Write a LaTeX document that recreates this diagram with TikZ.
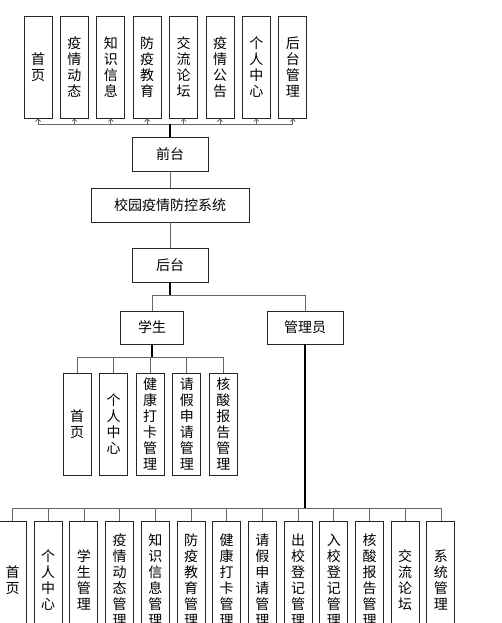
\documentclass[tikz,border=0pt]{standalone}
\usepackage{fontspec}
\setmainfont{Noto Sans CJK SC}
\usetikzlibrary{arrows.meta}

\begin{document}
\begin{tikzpicture}[>={Straight Barb[length=2.5pt,width=5pt]}, x=1pt, y=-1pt, font=\fontsize{14}{16}\selectfont]
\tikzset{
  box/.style={draw=black!85, line width=0.9pt, fill=white, inner sep=0pt},
  hbox/.style={box, minimum height=34pt},
  vbox/.style={box, minimum width=28pt, align=center},
  trunk/.style={line width=1.6pt, black},
  branch/.style={line width=0.8pt, black!60},
}
	\clip (0,0) rectangle (501,623);
	% front end modules
	\foreach \t [count=\i] in {{首\\页},{疫\\情\\动\\态},{知\\识\\信\\息},{防\\疫\\教\\育},{交\\流\\论\\坛},{疫\\情\\公\\告},{个\\人\\中\\心},{后\\台\\管\\理}}
		\node [vbox, minimum height=102pt] (f\i) at ({38+36.4*(\i-1)},67) {\t};
	\node [hbox, minimum width=76pt] (qt) at (170,154) {前台};
	\node [hbox, minimum width=158pt] (sys) at (170,205) {校园疫情防控系统};
	\node [hbox, minimum width=76pt] (ht) at (170,265) {后台};
	\node [hbox, minimum width=63pt, minimum height=33pt] (xs) at (152,327.5) {学生};
	\node [hbox, minimum width=76pt, minimum height=33pt] (gly) at (305,327.5) {管理员};
	% student modules
	\foreach \t [count=\i] in {{首\\页},{个\\人\\中\\心},{健\\康\\打\\卡\\管\\理},{请\\假\\申\\请\\管\\理},{核\\酸\\报\\告\\管\\理}}
		\node [vbox, minimum height=102pt] (s\i) at ({77+36.6*(\i-1)},424) {\t};
	% admin modules
	\foreach \t [count=\i] in {{首\\页},{个\\人\\中\\心},{学\\生\\管\\理},{疫\\情\\动\\态\\管\\理},{知\\识\\信\\息\\管\\理},{防\\疫\\教\\育\\管\\理},{健\\康\\打\\卡\\管\\理},{请\\假\\申\\请\\管\\理},{出\\校\\登\\记\\管\\理},{入\\校\\登\\记\\管\\理},{核\\酸\\报\\告\\管\\理},{交\\流\\论\\坛},{系\\统\\管\\理}}
		\node [vbox, minimum height=118pt] (g\i) at ({12.5+35.7*(\i-1)},580) {\t};

	\draw [branch] ([yshift=-6pt]f1.south) -- ([yshift=-6pt]f8.south);
	\foreach \i in {1,...,8}
		\draw [branch, ->] ([yshift=-6pt]f\i.south) -- (f\i.south);
	\draw [trunk] (qt.north) -- ++(0,-13);
	\draw [branch] (qt) -- (sys);
	\draw [branch] (sys) -- (ht);
	\draw [branch] (ht.south) -- ++(0,13) -| (xs.north);
	\draw [branch] (ht.south) -- ++(0,13) -| (gly.north);
	\draw [trunk] (ht.south) -- ++(0,13);
	\foreach \i in {1,...,5}
		\draw [branch] (xs.south) -- ++(0,13) -| (s\i.north);
	\draw [trunk] (xs.south) -- ++(0,13);
	\foreach \i in {1,...,13}
		\draw [branch] (gly.south) -- ++(0,164) -| (g\i.north);
	\draw [trunk] (gly.south) -- ++(0,164);
\end{tikzpicture}
\end{document}
